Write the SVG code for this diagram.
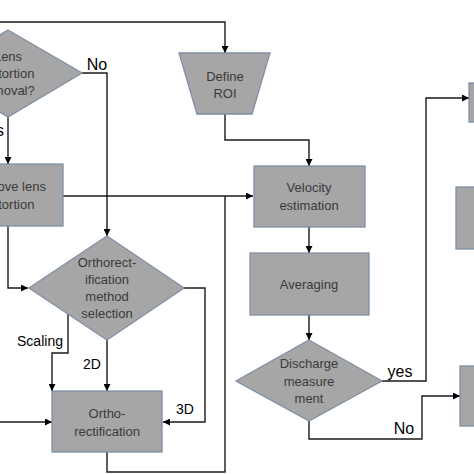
<svg xmlns="http://www.w3.org/2000/svg" width="474" height="474" viewBox="0 0 474 474">
<defs>
<marker id="ah" viewBox="0 0 10 10" refX="10" refY="5" markerWidth="7" markerHeight="7" markerUnits="userSpaceOnUse" orient="auto">
<path d="M0,0 L10,5 L0,10 z" fill="#000"/>
</marker>
<style>
.n{fill:#a6a6a6;stroke:#7f8fa6;stroke-width:1.3}
.t{font-family:"Liberation Sans",Arial,sans-serif;font-size:13px;fill:#3a3a3a;text-anchor:middle}
.l{font-family:"Liberation Sans",Arial,sans-serif;fill:#000}
.c{fill:none;stroke:#1a1a1a;stroke-width:1.4}
</style>
</defs>
<rect width="474" height="474" fill="#fff"/>
<g id="connectors">
<path class="c" d="M0,22 H225 V53" marker-end="url(#ah)"/>
<path class="c" d="M82,73 H107 V236" marker-end="url(#ah)"/>
<path class="c" d="M8,117 V164" marker-end="url(#ah)"/>
<path class="c" d="M63,196 H253" marker-end="url(#ah)"/>
<path class="c" d="M8,226 V288 H28" marker-end="url(#ah)"/>
<path class="c" d="M183,288 H205 V422 H163" marker-end="url(#ah)"/>
<path class="c" d="M68,314 V353 H52 V391" marker-end="url(#ah)"/>
<path class="c" d="M107,340 V391" marker-end="url(#ah)"/>
<path class="c" d="M0,422 H52" marker-end="url(#ah)"/>
<path class="c" d="M107,452 V472 H225 V196"/>
<path class="c" d="M225,114 V140 H309 V166" marker-end="url(#ah)"/>
<path class="c" d="M309,227 V253" marker-end="url(#ah)"/>
<path class="c" d="M309,315 V340" marker-end="url(#ah)"/>
<path class="c" d="M382,381 H426 V98 H469" marker-end="url(#ah)"/>
<path class="c" d="M309,421 V439 H422 V396 H460" marker-end="url(#ah)"/>
<text class="l" x="97" y="70" font-size="16" text-anchor="middle">No</text>
<text class="l" x="0" y="136" font-size="16" text-anchor="end" dx="4">yes</text>
<text class="l" x="40" y="346" font-size="14" text-anchor="middle">Scaling</text>
<text class="l" x="92" y="369" font-size="14" text-anchor="middle">2D</text>
<text class="l" x="185" y="414" font-size="14" text-anchor="middle">3D</text>
<text class="l" x="400" y="377" font-size="16" text-anchor="middle">yes</text>
<text class="l" x="404" y="434" font-size="16" text-anchor="middle">No</text>
</g>
<g id="lens-decision">
<polygon class="n" points="8,30 82,73 8,117 -66,73"/>
<text class="t" x="8" y="61">Lens</text>
<text class="t" x="8" y="78">distortion</text>
<text class="t" x="8" y="95">removal?</text>
</g>
<g id="remove-lens">
<rect class="n" x="-47" y="164" width="110" height="62"/>
<text class="t" x="8" y="191">Remove lens</text>
<text class="t" x="8" y="209">distortion</text>
</g>
<g id="ortho-method">
<polygon class="n" points="107,236 184,288 107,340 29,288"/>
<text class="t" x="107" y="267" font-size="13.5">Orthorect-</text>
<text class="t" x="107" y="284" font-size="13.5">ification</text>
<text class="t" x="107" y="301" font-size="13.5">method</text>
<text class="t" x="107" y="318" font-size="13.5">selection</text>
</g>
<g id="ortho">
<rect class="n" x="52" y="391" width="110" height="61"/>
<text class="t" x="107" y="418">Ortho-</text>
<text class="t" x="107" y="436">rectification</text>
</g>
<g id="define-roi">
<polygon class="n" points="179,53 270,53 252,114 197,114"/>
<text class="t" x="225" y="81">Define</text>
<text class="t" x="225" y="98">ROI</text>
</g>
<g id="velocity">
<rect class="n" x="254" y="166" width="111" height="61"/>
<text class="t" x="309" y="192">Velocity</text>
<text class="t" x="309" y="210">estimation</text>
</g>
<g id="averaging">
<rect class="n" x="250" y="253" width="119" height="62"/>
<text class="t" x="309" y="289">Averaging</text>
</g>
<g id="discharge">
<polygon class="n" points="309,340 382,381 309,421 236,381"/>
<text class="t" x="309" y="368">Discharge</text>
<text class="t" x="309" y="386">measure</text>
<text class="t" x="309" y="403">ment</text>
</g>
<g id="right-top">
<rect class="n" x="469" y="83" width="20" height="39"/>
</g>
<g id="right-mid">
<rect class="n" x="456" y="187" width="30" height="62"/>
</g>
<g id="right-bottom">
<rect class="n" x="460" y="366" width="30" height="60"/>
</g>
</svg>
